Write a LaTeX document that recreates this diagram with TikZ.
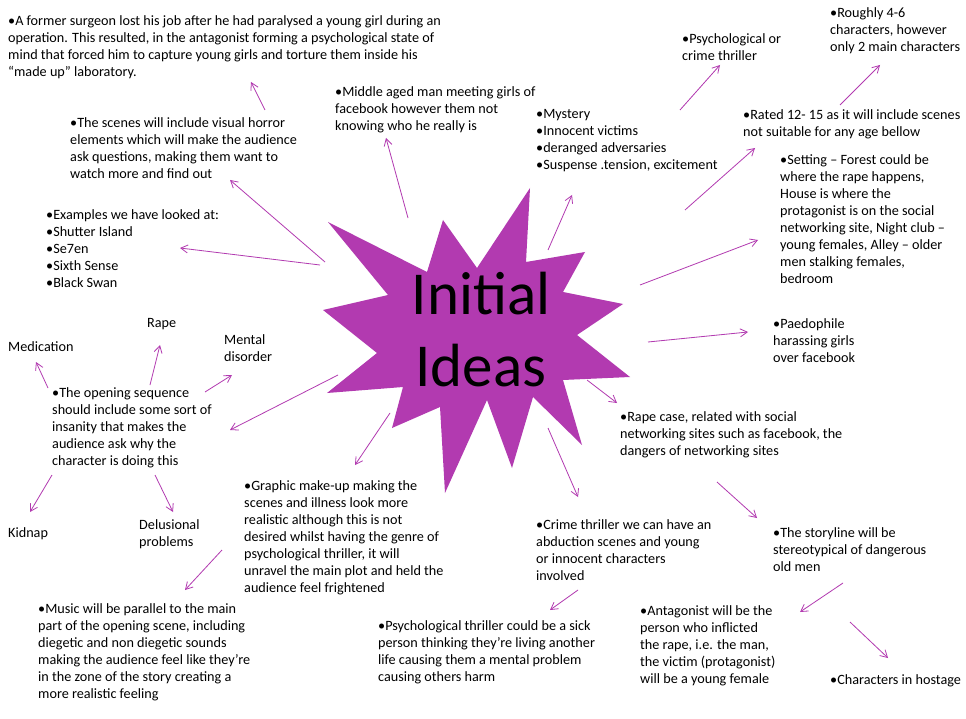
\documentclass[tikz,border=0pt]{standalone}
\usepackage{fontspec}
\setmainfont{Carlito}
\usetikzlibrary{arrows.meta}
\definecolor{pur}{HTML}{B23AB0}
\begin{document}
\begin{tikzpicture}[x=1pt,y=-1pt,
 tx/.style={anchor=north west,align=left,font=\fontsize{14.2}{17}\selectfont,inner sep=0pt},
 ar/.style={draw=pur,line width=0.8pt,-{Straight Barb[length=7pt,width=8pt]}}]
\useasboundingbox (0,0) rectangle (966,719);
\fill[white] (0,0) rectangle (966,719);
\fill[pur] (530,188)--(526,262)--(585,252)--(563,292)--(623,304)--(577,335)--(630,377)--(563,380)--(582,445)--(533,397)--(512,468)--(487,400)--(445,493)--(440,407)--(392,428)--(403,387)--(327,393)--(377,353)--(323,310)--(388,295)--(328,222)--(427,272)--(443,220)--(477,268)--cycle;
\node[anchor=center,align=center,font=\fontsize{61}{72}\selectfont] (c) at (481,330) {Initial\\Ideas};
\node[tx] (t1) at (8,15) {•A former surgeon lost his job after he had paralysed a young girl during an\\operation. This resulted, in the antagonist forming a psychological state of\\mind that forced him to capture young girls and torture them inside his\\“made up” laboratory.};
\node[tx] (t2) at (70,117) {•The scenes will include visual horror\\elements which will make the audience\\ask questions, making them want to\\watch more and find out};
\node[tx] (t3) at (335,86) {•Middle aged man meeting girls of\\facebook however them not\\knowing who he really is};
\node[tx] (t4) at (46,209) {•Examples we have looked at:\\•Shutter Island\\•Se7en\\•Sixth Sense\\•Black Swan};
\node[tx] (t5) at (536,109) {•Mystery\\•Innocent victims\\•deranged adversaries\\•Suspense .tension, excitement};
\node[tx] (t6) at (682,33) {•Psychological or\\crime thriller};
\node[tx] (t7) at (830,7) {•Roughly 4-6\\characters, however\\only 2 main characters};
\node[tx] (t8) at (743,109) {•Rated 12- 15 as it will include scenes\\not suitable for any age bellow};
\node[tx] (t9) at (780,154) {•Setting – Forest could be\\where the rape happens,\\House is where the\\protagonist is on the social\\networking site, Night club –\\young females, Alley – older\\men stalking females,\\bedroom};
\node[tx] (t10) at (773,318) {•Paedophile\\harassing girls\\over facebook};
\node[tx] (t11) at (620,411) {•Rape case, related with social\\networking sites such as facebook, the\\dangers of networking sites};
\node[tx] (t12) at (52,387) {•The opening sequence\\should include some sort of\\insanity that makes the\\audience ask why the\\character is doing this};
\node[tx] (med) at (8,341) {Medication};
\node[tx] (rape) at (147,318) {Rape};
\node[tx] (mdis) at (224,334) {Mental\\disorder};
\node[tx] (kid) at (8,527) {Kidnap};
\node[tx] (del) at (139,519) {Delusional\\problems};
\node[tx] (t13) at (244,480) {•Graphic make-up making the\\scenes and illness look more\\realistic although this is not\\desired whilst having the genre of\\psychological thriller, it will\\unravel the main plot and held the\\audience feel frightened};
\node[tx] (t14) at (536,519) {•Crime thriller we can have an\\abduction scenes and young\\or innocent characters\\involved};
\node[tx] (t15) at (773,527) {•The storyline will be\\stereotypical of dangerous\\old men};
\node[tx] (t16) at (38,603) {•Music will be parallel to the main\\part of the opening scene, including\\diegetic and non diegetic sounds\\making the audience feel like they're\\in the zone of the story creating a\\more realistic feeling};
\node[tx] (t17) at (378,620) {•Psychological thriller could be a sick\\person thinking they're living another\\life causing them a mental problem\\causing others harm};
\node[tx] (t18) at (640,605) {•Antagonist will be the\\person who inflicted\\the rape, i.e. the man,\\the victim (protagonist)\\will be a young female};
\node[tx] (t19) at (830,674) {•Characters in hostage};
\coordinate (a1) at (408,218); \coordinate (b1) at (386,138);
\coordinate (a2) at (265,110); \coordinate (b2) at (251,82);
\coordinate (a3) at (325,262); \coordinate (b3) at (230,180);
\coordinate (a4) at (320,265); \coordinate (b4) at (180,248);
\coordinate (a5) at (338,375); \coordinate (b5) at (230,430);
\coordinate (a6) at (390,413); \coordinate (b6) at (355,465);
\coordinate (a7) at (222,550); \coordinate (b7) at (185,590);
\coordinate (a8) at (548,250); \coordinate (b8) at (572,195);
\coordinate (a9) at (680,110); \coordinate (b9) at (720,65);
\coordinate (a10) at (685,210); \coordinate (b10) at (755,148);
\coordinate (a11) at (840,105); \coordinate (b11) at (880,65);
\coordinate (a12) at (640,285); \coordinate (b12) at (758,240);
\coordinate (a13) at (648,342); \coordinate (b13) at (748,332);
\coordinate (a14) at (587,380); \coordinate (b14) at (617,403);
\coordinate (a15) at (548,428); \coordinate (b15) at (578,497);
\coordinate (a16) at (578,590); \coordinate (b16) at (550,610);
\coordinate (a17) at (717,482); \coordinate (b17) at (757,518);
\coordinate (a18) at (843,583); \coordinate (b18) at (800,612);
\coordinate (a19) at (850,622); \coordinate (b19) at (888,658);
\coordinate (a20) at (48,388); \coordinate (b20) at (36,362);
\coordinate (a21) at (150,385); \coordinate (b21) at (160,345);
\coordinate (a22) at (205,392); \coordinate (b22) at (232,375);
\coordinate (a23) at (52,475); \coordinate (b23) at (30,512);
\coordinate (a24) at (155,475); \coordinate (b24) at (173,512);
\foreach \i in {1,...,24} \draw[ar] (a\i) -- (b\i);
\end{tikzpicture}
\end{document}
